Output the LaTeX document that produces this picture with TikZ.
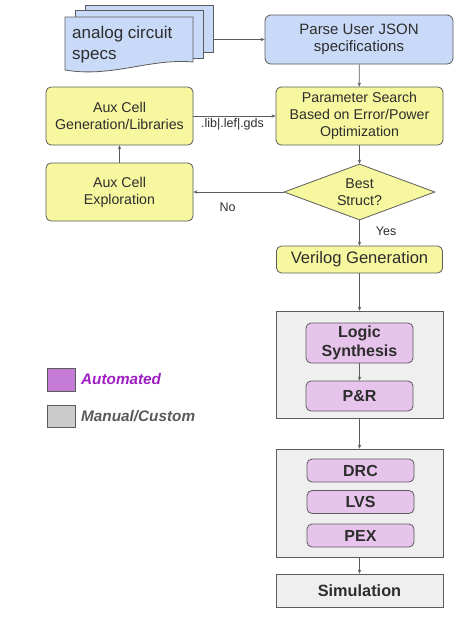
\documentclass[tikz,border=0pt]{standalone}
\usepackage{fontspec}
\setmainfont{Liberation Sans}
\usetikzlibrary{arrows.meta,shapes.geometric}
\definecolor{flowblue}{RGB}{201,218,248}
\definecolor{flowyellow}{RGB}{246,247,158}
\definecolor{flowpurple}{RGB}{231,196,235}
\definecolor{flowgray}{RGB}{239,239,239}
\definecolor{flowedge}{RGB}{92,92,92}
\definecolor{flowtext}{RGB}{45,45,45}
\definecolor{legpurple}{RGB}{196,124,214}
\definecolor{legpurpletext}{RGB}{158,30,196}
\definecolor{leggray}{RGB}{204,204,204}
\definecolor{leggraytext}{RGB}{90,90,90}
\tikzset{
  sheet/.style={draw=flowedge, line width=0.8pt, fill=flowblue},
  bluebox/.style={draw=flowedge, line width=0.8pt, rounded corners=6pt, fill=flowblue,
    minimum width=188pt, minimum height=49pt, align=center, inner sep=2pt,
    text=flowtext, font=\fontsize{15}{17.5}\selectfont},
  yellowbox/.style={draw=flowedge, line width=0.8pt, rounded corners=5pt, fill=flowyellow,
    minimum width=147pt, minimum height=58pt, align=center, inner sep=2pt,
    text=flowtext, font=\fontsize{14.2}{17}\selectfont},
  decision/.style={draw=flowedge, line width=0.8pt, diamond, shape aspect=2.7, fill=flowyellow,
    minimum width=151pt, minimum height=56pt, align=center, inner sep=0pt,
    text=flowtext, font=\fontsize{14.2}{17}\selectfont},
  stagebox/.style={draw=flowedge, line width=0.8pt, fill=flowgray,
    minimum width=167pt, inner sep=2pt},
  toolbox/.style={draw=flowedge, line width=0.8pt, rounded corners=5pt, fill=flowpurple,
    minimum width=107pt, align=center, inner sep=2pt,
    text=flowtext, font=\fontsize{16}{19}\selectfont\bfseries},
  legendbox/.style={draw=flowedge, line width=1pt, minimum width=28pt, minimum height=23pt, inner sep=0pt},
  legendtext/.style={anchor=west, inner sep=0pt, font=\fontsize{15.3}{18}\selectfont\bfseries\itshape},
  flowline/.style={-{Stealth[length=4pt,width=3.4pt]}, draw=flowedge, line width=0.8pt},
  flowlabel/.style={text=flowtext, font=\fontsize{12.5}{14}\selectfont, inner sep=2pt}
}
\begin{document}
\begin{tikzpicture}[x=1pt, y=-1pt]
  \useasboundingbox[fill=white] (0,0) rectangle (470,624);
  \draw[sheet] (85,5) rectangle (213,52);
  \draw[sheet] (75,10) rectangle (203,58);
  \draw[sheet] (65,17) -- (193,17) -- (193,62) .. controls (150,58) and (112,78) .. (65,70) -- cycle;
  \node[anchor=north west, align=left, inner sep=0pt, text=flowtext,
    font=\fontsize{17}{20.5}\selectfont] (specs) at (72,26) {analog circuit\\specs};
  \coordinate (specsout) at (213,39.5);
  \node[bluebox] (parse) at (359,39.5) {Parse User JSON\\specifications};
  \node[yellowbox, minimum width=167pt] (search) at (359.5,116)
    {Parameter Search\\Based on Error/Power\\Optimization};
  \node[yellowbox] (auxgen) at (119.5,116) {Aux Cell\\Generation/Libraries};
  \node[yellowbox] (auxexp) at (119.5,192) {Aux Cell\\Exploration};
  \node[decision] (best) at (359.5,192) {Best\\Struct?};
  \node[yellowbox, minimum width=166pt, minimum height=27pt,
    font=\fontsize{16.6}{19}\selectfont] (verilog) at (359.5,259.5) {Verilog Generation};
  \node[stagebox, minimum height=107pt] (pnrflow) at (359.5,364.5) {};
  \node[toolbox, minimum height=40pt] (synth) at (359.5,343) {Logic\\Synthesis};
  \node[toolbox, minimum height=30pt] (pnr) at (359.5,396) {P\&R};
  \node[stagebox, minimum height=108pt] (signoff) at (359.5,503) {};
  \node[toolbox, minimum height=23pt] (drc) at (360.5,470.5) {DRC};
  \node[toolbox, minimum height=23pt] (lvs) at (360.5,502) {LVS};
  \node[toolbox, minimum height=23pt] (pex) at (360.5,535.5) {PEX};
  \node[stagebox, minimum height=33pt, text=flowtext,
    font=\fontsize{16.3}{19}\selectfont\bfseries] (sim) at (359.5,590.5) {Simulation};
  \node[legendbox, fill=legpurple] (autokey) at (61,379.5) {};
  \node[legendtext, text=legpurpletext] (autotext) at (81,379.5) {Automated};
  \node[legendbox, fill=leggray, minimum height=22pt] (manualkey) at (61,416) {};
  \node[legendtext, text=leggraytext] (manualtext) at (81,416) {Manual/Custom};
  \draw[flowline] (specsout) -- (parse.west);
  \draw[flowline] (parse) -- (search);
  \draw[flowline] (auxgen) -- node[flowlabel, below, xshift=-2pt] {.lib|.lef|.gds} (search);
  \draw[flowline] (auxexp) -- (auxgen);
  \draw[flowline] (search) -- (best);
  \draw[flowline] (best) -- node[flowlabel, below, pos=0.62, yshift=-8pt] {No} (auxexp);
  \draw[flowline] (best) -- node[flowlabel, right, xshift=14pt, yshift=2pt] {Yes} (verilog);
  \draw[flowline] (verilog) -- (pnrflow);
  \draw[flowline] (synth) -- (pnr);
  \draw[flowline] (pnrflow) -- (signoff);
  \draw[flowline] (signoff) -- (sim);
\end{tikzpicture}
\end{document}
